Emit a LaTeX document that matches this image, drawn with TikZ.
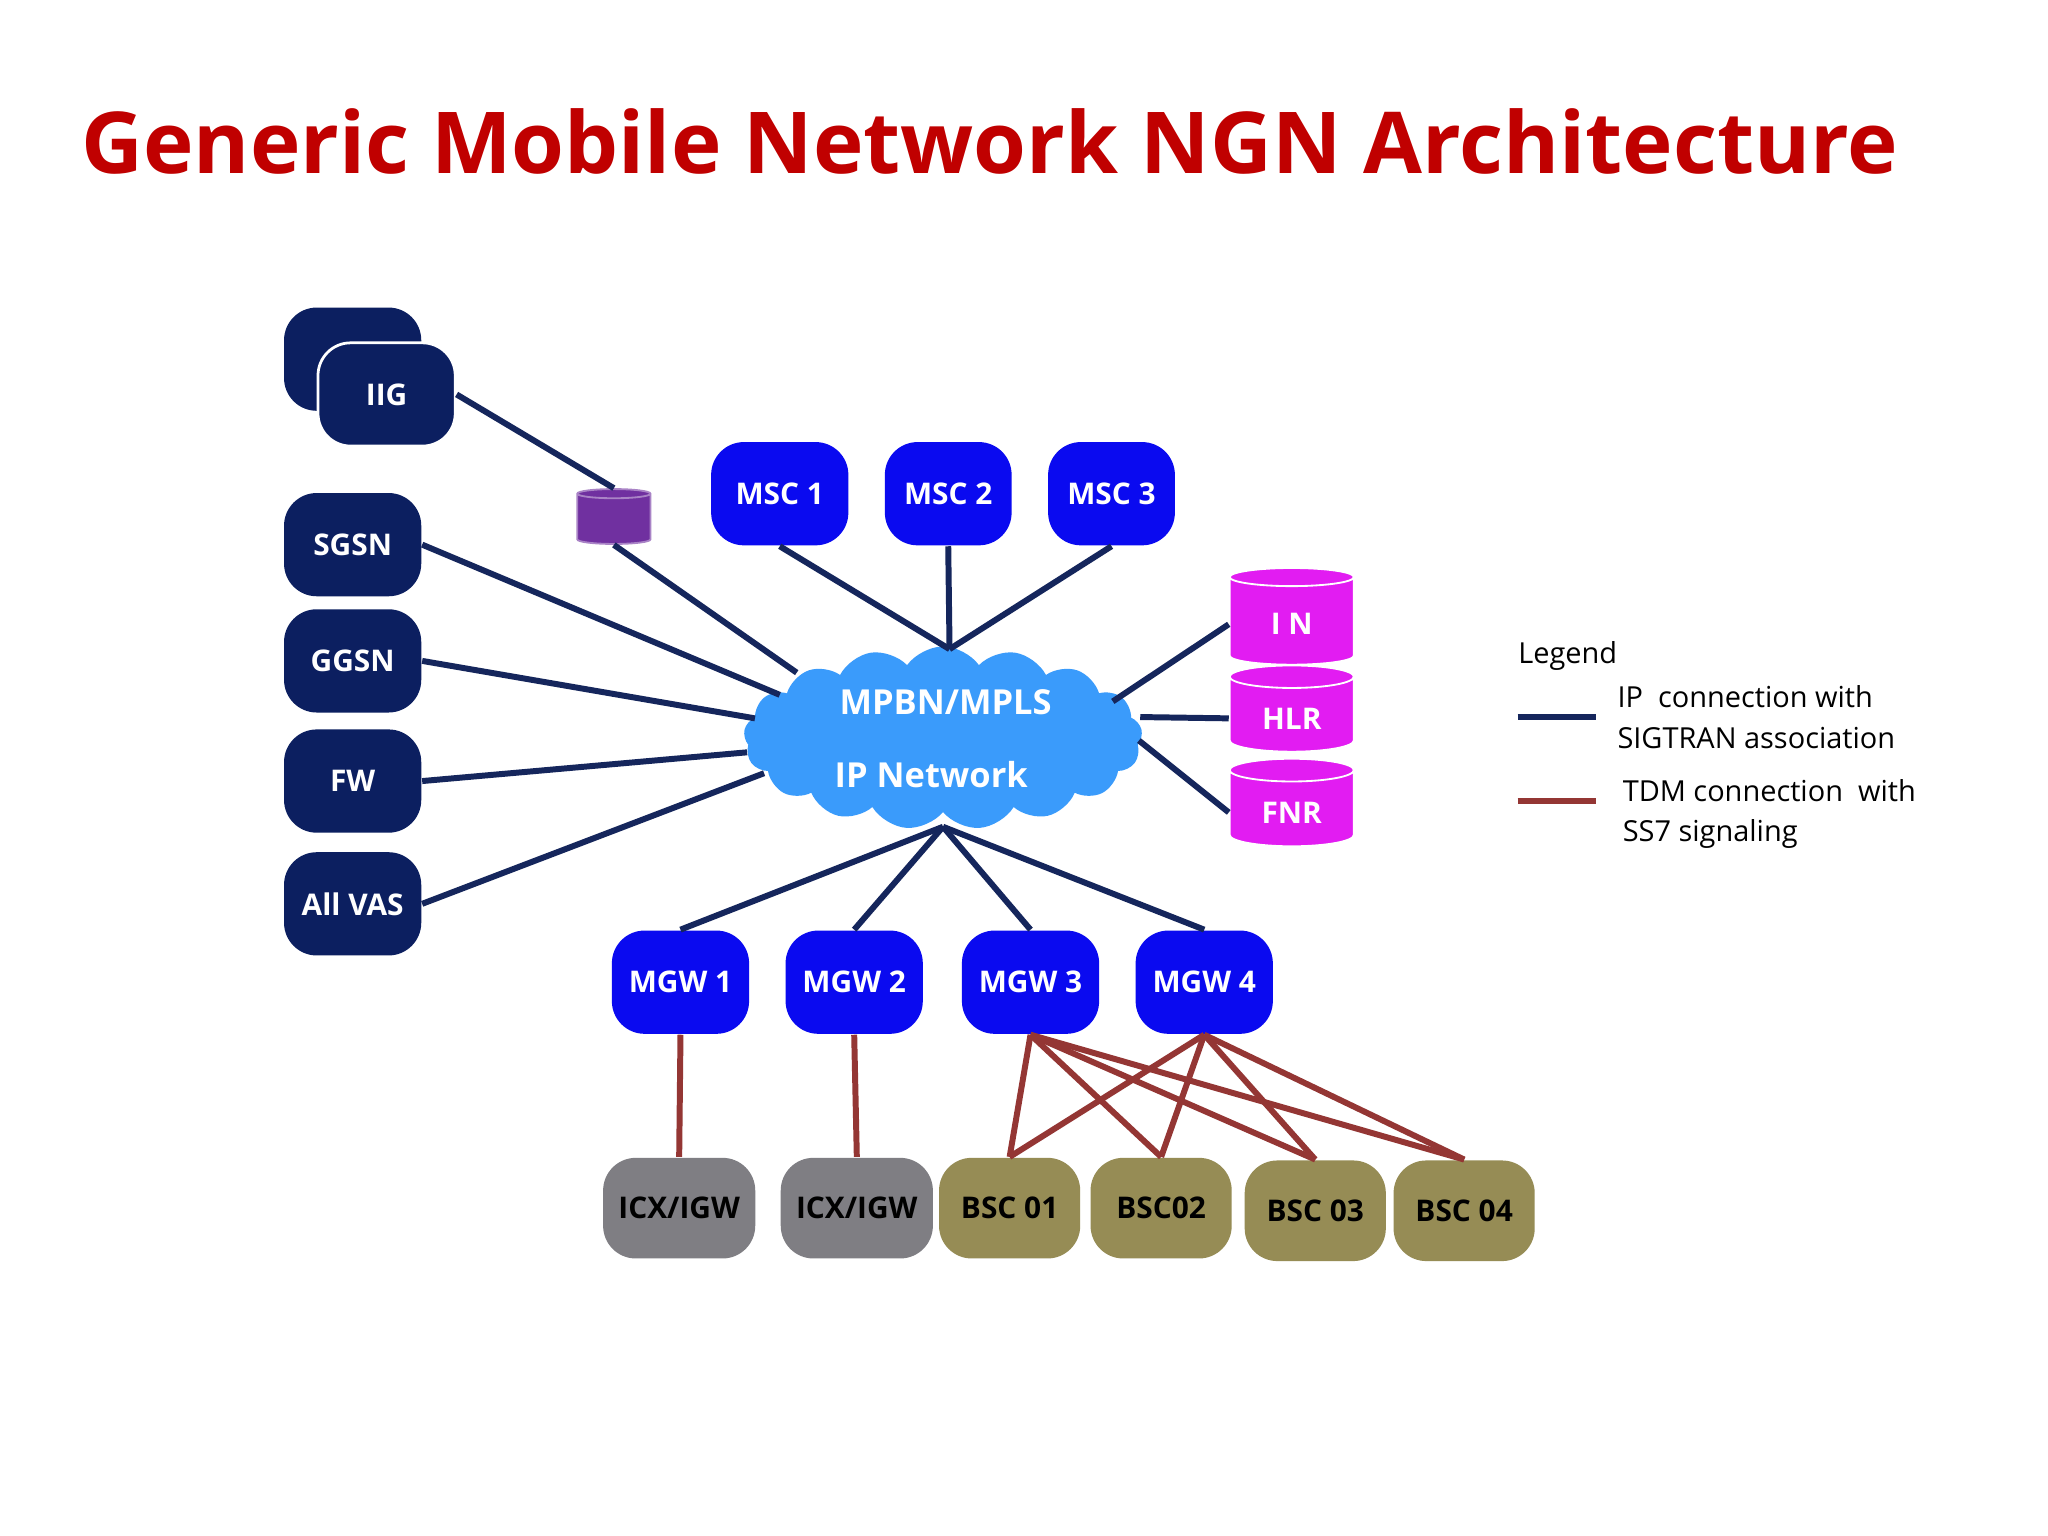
\documentclass[tikz,border=0pt]{standalone}
\usepackage{fontspec}
\setmainfont{Open Sans}
\usetikzlibrary{shapes.symbols,shapes.geometric}
\definecolor{navy}{HTML}{0C1F60}
\definecolor{brightblue}{HTML}{0A0AF0}
\definecolor{magent}{HTML}{E21CF2}
\definecolor{olive}{HTML}{968C55}
\definecolor{greybox}{HTML}{7F7E83}
\definecolor{purp}{HTML}{7030A0}
\definecolor{cloudblue}{HTML}{3A9BFB}
\definecolor{ipline}{HTML}{15265C}
\definecolor{tdmline}{HTML}{943634}
\definecolor{titlered}{HTML}{C00000}
\begin{document}
\begin{tikzpicture}
        [x=0.01cm,y=-0.01cm,
        box/.style={rounded corners=2.5mm,minimum width=1.05cm,minimum height=0.79cm,text=white,font=\fontsize{6.5}{7}\selectfont\bfseries},
        core/.style={box,fill=navy},
        msc/.style={box,fill=brightblue},
        icx/.style={box,fill=greybox,text=black,minimum width=1.08cm,minimum height=0.77cm},
        bsc/.style={icx,fill=olive},
        db/.style={cylinder,shape border rotate=90,aspect=0.25,draw=white,fill=magent,text=white,minimum width=0.95cm,font=\fontsize{6.5}{7}\selectfont\bfseries},
        ip/.style={ipline,line width=1.3pt},
        tdm/.style={tdmline,line width=1.3pt}]
        \useasboundingbox[fill=white] (0,0) rectangle (1568,1176);
        %Title
        \node[anchor=west,text=titlered,font=\fontsize{18.6}{20}\selectfont\bfseries] (title) at (50,108) {Generic Mobile Network NGN Architecture};
        %Left side
        \node[core,minimum width=1.05cm] (IIGback) at (270,275) {};
        \node[core,draw=white,line width=0.6pt] (IIG) at (296,302) {IIG};
        \node[core] (SGSN) at (270,417) {SGSN};
        \node[core] (GGSN) at (270,506) {GGSN};
        \node[core] (FW) at (270,598) {FW};
        \node[core] (VAS) at (270,692) {All VAS};
        \node[cylinder,shape border rotate=90,aspect=0.3,fill=purp,draw=purp!60,minimum width=0.56cm,minimum height=0.42cm] (FWB) at (470,399) {};
        %Core cloud
        \node[cloud,cloud puffs=17,cloud puff arc=110,aspect=2.2,fill=cloudblue,minimum width=3.05cm,minimum height=1.4cm] (CLD) at (722,565) {};
        \node[text=white,font=\fontsize{7.5}{8}\selectfont\bfseries] (CLD1) at (724,538) {MPBN/MPLS};
        \node[text=white,font=\fontsize{7.5}{8}\selectfont\bfseries] (CLD2) at (713,593) {IP Network};
        \coordinate (CT) at (727,497);
        \coordinate (CB) at (722,633);
        %Top
        \node[msc] (MSC1) at (597,378) {MSC 1};
        \node[msc,minimum width=0.97cm] (MSC2) at (726,378) {MSC 2};
        \node[msc,minimum width=0.97cm] (MSC3) at (851,378) {MSC 3};
        %Right side
        \node[db,minimum height=0.74cm] (IN) at (989,478) {I N};
        \node[db,minimum height=0.66cm] (HLR) at (989,550) {HLR};
        \node[db,minimum height=0.67cm] (FNR) at (989,622) {FNR};
        %Bottom
        \node[msc] (MGW1) at (521,752) {MGW 1};
        \node[msc] (MGW2) at (654,752) {MGW 2};
        \node[msc] (MGW3) at (789,752) {MGW 3};
        \node[msc] (MGW4) at (922,752) {MGW 4};
        \node[icx] (ICX1) at (520,925) {ICX/IGW};
        \node[icx] (ICX2) at (656,925) {ICX/IGW};
        \node[bsc] (BSC1) at (773,925) {BSC 01};
        \node[bsc] (BSC2) at (889,925) {BSC02};
        \node[bsc] (BSC3) at (1007,927) {BSC 03};
        \node[bsc] (BSC4) at (1121,927) {BSC 04};

        \draw[ip] (IIG.east) -- (FWB.top);
        \draw[ip] (FWB.bottom) -- (610,515);
        \draw[ip] (SGSN.east) -- (597,532);
        \draw[ip] (GGSN.east) -- (578,550);
        \draw[ip] (FW.east) -- (572,576);
        \draw[ip] (VAS.east) -- (585,592);
        \foreach \m in {MSC1,MSC2,MSC3}
            \draw[ip] (\m.south) -- (CT);
        \draw[ip] (IN.west) -- (852,537);
        \draw[ip] (HLR.west) -- (873,549);
        \draw[ip] (FNR.west) -- (872,567);
        \foreach \m in {MGW1,MGW2,MGW3,MGW4}
            \draw[ip] (CB) -- (\m.north);
        \draw[tdm] (MGW1.south) -- (ICX1.north);
        \draw[tdm] (MGW2.south) -- (ICX2.north);
        \foreach \m in {MGW3,MGW4}
            \foreach \b in {BSC1,BSC2,BSC3,BSC4}
                \draw[tdm] (\m.south) -- (\b.north);

        %Legend
        \node[anchor=west,font=\fontsize{6.3}{7.5}\selectfont] (LEG) at (1150,502) {Legend};
        \coordinate (L1a) at (1162,549);
        \coordinate (L1b) at (1222,549);
        \coordinate (L2a) at (1162,613);
        \coordinate (L2b) at (1222,613);
        \draw[ip] (L1a) -- (L1b);
        \draw[tdm] (L2a) -- (L2b);
        \node[anchor=west,align=left,font=\fontsize{6.3}{8.8}\selectfont] (LT1) at (1226,549) {IP\ \ connection with\\SIGTRAN association};
        \node[anchor=west,align=left,font=\fontsize{6.3}{8.8}\selectfont] (LT2) at (1230,623) {TDM connection\ \ with\\SS7 signaling};
\end{tikzpicture}
\end{document}
